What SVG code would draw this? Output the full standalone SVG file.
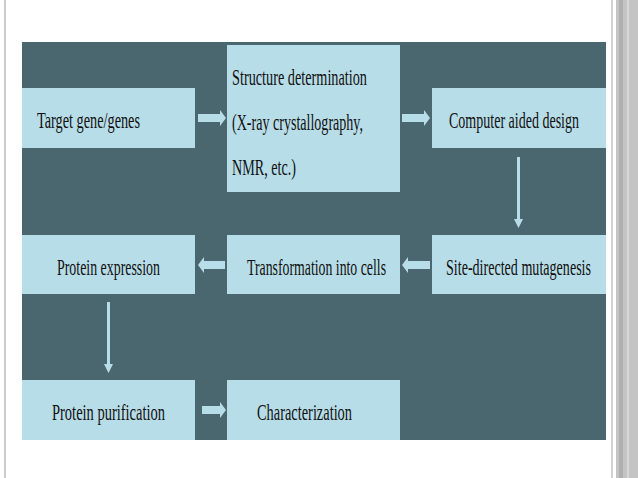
<svg xmlns="http://www.w3.org/2000/svg" width="638" height="478" viewBox="0 0 638 478">
<style>
.b{fill:#b7dde8}
.t{font-family:"Liberation Serif",serif;font-size:24px;fill:#111}
.a{fill:#b7dde8}
</style>
<rect width="638" height="478" fill="#fff"/>
<rect x="4" y="0" width="2" height="478" fill="#ccc"/>
<rect x="611" y="0" width="2" height="478" fill="#d4d4d4"/>
<rect x="616" y="0" width="22" height="478" fill="#c4c4c4"/>
<rect x="619" y="0" width="4" height="478" fill="#b0b0b0"/>
<rect x="627" y="0" width="2" height="478" fill="#d8d8d8"/>
<rect x="22" y="42" width="584" height="398" fill="#4a6770"/>
<g id="n1"><rect class="b" x="22" y="88" width="173" height="60"/><text class="t" x="37" y="128" textLength="103" lengthAdjust="spacingAndGlyphs">Target gene/genes</text></g>
<g id="n2"><rect class="b" x="227" y="45" width="173" height="147"/><text class="t" x="232" y="85" textLength="135" lengthAdjust="spacingAndGlyphs">Structure determination</text><text class="t" x="232" y="130" textLength="131" lengthAdjust="spacingAndGlyphs">(X-ray crystallography,</text><text class="t" x="232" y="175" textLength="64" lengthAdjust="spacingAndGlyphs">NMR, etc.)</text></g>
<g id="n3"><rect class="b" x="432" y="88" width="174" height="60"/><text class="t" x="449" y="128" textLength="130" lengthAdjust="spacingAndGlyphs">Computer aided design</text></g>
<g id="n4"><rect class="b" x="432" y="235" width="174" height="59"/><text class="t" x="446" y="275" textLength="145" lengthAdjust="spacingAndGlyphs">Site-directed mutagenesis</text></g>
<g id="n5"><rect class="b" x="227" y="235" width="173" height="59"/><text class="t" x="247" y="275" textLength="139" lengthAdjust="spacingAndGlyphs">Transformation into cells</text></g>
<g id="n6"><rect class="b" x="22" y="235" width="173" height="59"/><text class="t" x="57" y="275" textLength="103" lengthAdjust="spacingAndGlyphs">Protein expression</text></g>
<g id="n7"><rect class="b" x="22" y="380" width="173" height="60"/><text class="t" x="52" y="420" textLength="113" lengthAdjust="spacingAndGlyphs">Protein purification</text></g>
<g id="n8"><rect class="b" x="227" y="380" width="173" height="60"/><text class="t" x="257" y="420" textLength="95" lengthAdjust="spacingAndGlyphs">Characterization</text></g>
<g id="connectors">
<polygon class="a" points="198,114 220,114 220,110 226,118 220,126 220,122 198,122"/>
<polygon class="a" points="402,114 424,114 424,110 430,118 424,126 424,122 402,122"/>
<polygon class="a" points="430,261 408,261 408,257 402,265 408,273 408,269 430,269"/>
<polygon class="a" points="225,261 204,261 204,257 198,265 204,273 204,269 225,269"/>
<polygon class="a" points="517,157 520,157 520,219 523,219 518.5,228 514,219 517,219"/>
<polygon class="a" points="107,302 110,302 110,364 113,364 108.5,373 104,364 107,364"/>
<polygon class="a" points="202,406 220,406 220,402 226,410 220,418 220,414 202,414"/>
</g>
</svg>
